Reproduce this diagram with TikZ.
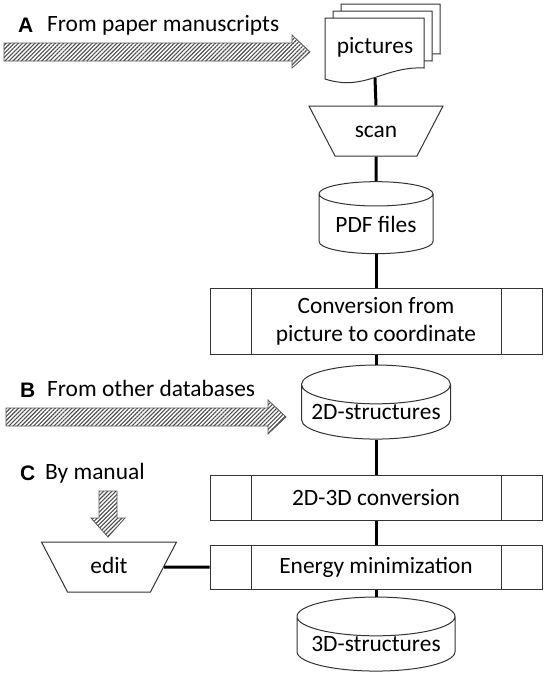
\documentclass[tikz,border=0pt]{standalone}
\usepackage{fontspec}
\setmainfont{Carlito}
\newfontfamily\tagfont{Liberation Sans}
\usetikzlibrary{shapes.geometric,patterns.meta,calc}

\tikzset{
  outl/.style={draw=black!80, line width=1pt},
  link/.style={line width=3pt},
  procbox/.style={outl, rectangle, fill=white, minimum width=332, inner sep=0},
  drum/.style={outl, cylinder, shape border rotate=90, aspect=0.3, fill=white, inner sep=0},
  manual/.style={outl, trapezium, shape border rotate=180, trapezium angle=62.5,
    trapezium stretches body, text height=17, text depth=5, inner ysep=14, inner xsep=0,
    minimum width=134, minimum height=50, fill=white},
  hatch/.style={draw=black!65, line width=0.8pt,
    pattern={Lines[angle=45, distance=2.9pt, line width=1.1pt]}, pattern color=black!70},
  tag/.style={font=\tagfont\bfseries\fontsize{21}{25}\selectfont, inner sep=0, anchor=base west},
  note/.style={inner sep=0, anchor=base west}
}

\begin{document}
\begin{tikzpicture}[x=1pt, y=-1pt, font=\fontsize{23.4}{28}\selectfont]

    \useasboundingbox (0,0) rectangle (547,681);

    % stack of sheets
    \foreach \dx/\dy in {16/14, 8/7, 0/0} {
        \draw[outl, fill=white] (325+\dx,18-\dy) -- (424+\dx,18-\dy) -- (424+\dx,68-\dy)
            .. controls (384+\dx,66-\dy) and (365+\dx,92-\dy) .. (325+\dx,79-\dy) -- cycle;
    }
    \node[minimum width=99, minimum height=62, inner sep=0] (pics) at (375,47) {pictures};

    \node[manual] (scan) at (376,131) {scan};
    \node[drum, minimum width=114, minimum height=72] (pdf) at (376,224) {PDF files};
    \node[procbox, minimum height=66, align=center] (conv) at (376,321) {Conversion from\\picture to coordinate};
    \node[drum, minimum width=149, minimum height=74] (twod) at (376,412) {2D-structures};
    \node[procbox, minimum height=45] (conv3) at (376,498) {2D-3D conversion};
    \node[procbox, minimum height=44] (emin) at (376,567) {Energy minimization};
    \node[drum, minimum width=158, minimum height=61] (threed) at (376,644) {3D-structures};
    \node[manual, minimum width=135] (edit) at (109,567) {edit};

    % side bars of the process boxes
    \draw[outl] ($(conv.north west)+(42,0)$) -- ($(conv.south west)+(42,0)$);
    \draw[outl] ($(conv.north east)+(-41,0)$) -- ($(conv.south east)+(-41,0)$);
    \draw[outl] ($(conv3.north west)+(42,0)$) -- ($(conv3.south west)+(42,0)$);
    \draw[outl] ($(conv3.north east)+(-41,0)$) -- ($(conv3.south east)+(-41,0)$);
    \draw[outl] ($(emin.north west)+(42,0)$) -- ($(emin.south west)+(42,0)$);
    \draw[outl] ($(emin.north east)+(-41,0)$) -- ($(emin.south east)+(-41,0)$);

    \draw[link] (pics.south) -- (scan.north);
    \draw[link] (scan.south) -- (pdf.north);
    \draw[link] (pdf.south) -- (conv.north);
    \draw[link] (conv.south) -- (twod.north);
    \draw[link] (twod.south) -- (conv3.north);
    \draw[link] (conv3.south) -- (emin.north);
    \draw[link] (emin.south) -- (threed.north);
    \draw[link] (edit.east) -- (emin.west);

    % inputs
    \node[tag] (tA) at (18,32) {A};
    \node[note] (nA) at (47,31) {From paper manuscripts};
    \coordinate (inA) at (4,52);
    \draw[hatch] (inA) ++(0,-9) -- ++(288,0) -- ++(0,-8) -- ++(18,17) -- ++(-18,16)
        -- ++(0,-7) -- ++(-288,0) -- cycle;

    \node[tag] (tB) at (20,397) {B};
    \node[note] (nB) at (47,396) {From other databases};
    \coordinate (inB) at (6,417);
    \draw[hatch] (inB) ++(0,-9) -- ++(262,0) -- ++(0,-8) -- ++(18,17) -- ++(-18,17)
        -- ++(0,-8) -- ++(-262,0) -- cycle;

    \node[tag] (tC) at (20,480) {C};
    \node[note] (nC) at (45,479) {By manual};
    \coordinate (inC) at (108,491);
    \draw[hatch] (inC) ++(-9,0) -- ++(0,27) -- ++(-8,0) -- ++(17,19) -- ++(17,-19)
        -- ++(-8,0) -- ++(0,-27) -- cycle;

\end{tikzpicture}
\end{document}
